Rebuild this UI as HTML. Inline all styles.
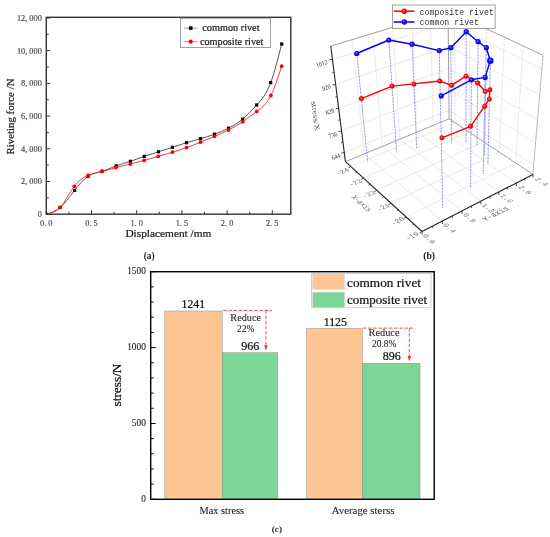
<!DOCTYPE html>
<html><head><meta charset="utf-8"><title>Figure</title>
<style>html,body{margin:0;padding:0;background:#fff;width:550px;height:537px;overflow:hidden}svg{display:block}</style>
</head><body>
<svg width="550" height="537" viewBox="0 0 550 537">
<defs>
<radialGradient id="gb" cx="0.5" cy="0.5" r="0.5" fx="0.38" fy="0.36"><stop offset="0" stop-color="#9a9aff"/><stop offset="0.45" stop-color="#1010ff"/><stop offset="1" stop-color="#0000d8"/></radialGradient>
<radialGradient id="gr" cx="0.5" cy="0.5" r="0.5" fx="0.38" fy="0.36"><stop offset="0" stop-color="#ffa0a0"/><stop offset="0.45" stop-color="#ff1010"/><stop offset="1" stop-color="#e00000"/></radialGradient>
</defs>
<clipPath id="clipA"><rect x="46.8" y="17" width="244" height="196.9"/></clipPath>
<rect width="550" height="537" fill="#fff"/>
<g id="chartA">
<line x1="46.3" y1="214.2" x2="50.3" y2="214.2" stroke="#333" stroke-width="1"/>
<line x1="46.3" y1="197.85" x2="48.8" y2="197.85" stroke="#333" stroke-width="1"/>
<line x1="46.3" y1="181.5" x2="50.3" y2="181.5" stroke="#333" stroke-width="1"/>
<line x1="46.3" y1="165.15" x2="48.8" y2="165.15" stroke="#333" stroke-width="1"/>
<line x1="46.3" y1="148.8" x2="50.3" y2="148.8" stroke="#333" stroke-width="1"/>
<line x1="46.3" y1="132.45" x2="48.8" y2="132.45" stroke="#333" stroke-width="1"/>
<line x1="46.3" y1="116.1" x2="50.3" y2="116.1" stroke="#333" stroke-width="1"/>
<line x1="46.3" y1="99.75" x2="48.8" y2="99.75" stroke="#333" stroke-width="1"/>
<line x1="46.3" y1="83.4" x2="50.3" y2="83.4" stroke="#333" stroke-width="1"/>
<line x1="46.3" y1="67.05" x2="48.8" y2="67.05" stroke="#333" stroke-width="1"/>
<line x1="46.3" y1="50.7" x2="50.3" y2="50.7" stroke="#333" stroke-width="1"/>
<line x1="46.3" y1="34.35" x2="48.8" y2="34.35" stroke="#333" stroke-width="1"/>
<line x1="46.3" y1="18" x2="50.3" y2="18" stroke="#333" stroke-width="1"/>
<line x1="46.3" y1="214.2" x2="46.3" y2="210.2" stroke="#333" stroke-width="1"/>
<line x1="68.9" y1="214.2" x2="68.9" y2="211.7" stroke="#333" stroke-width="1"/>
<line x1="91.5" y1="214.2" x2="91.5" y2="210.2" stroke="#333" stroke-width="1"/>
<line x1="114.1" y1="214.2" x2="114.1" y2="211.7" stroke="#333" stroke-width="1"/>
<line x1="136.7" y1="214.2" x2="136.7" y2="210.2" stroke="#333" stroke-width="1"/>
<line x1="159.3" y1="214.2" x2="159.3" y2="211.7" stroke="#333" stroke-width="1"/>
<line x1="181.9" y1="214.2" x2="181.9" y2="210.2" stroke="#333" stroke-width="1"/>
<line x1="204.5" y1="214.2" x2="204.5" y2="211.7" stroke="#333" stroke-width="1"/>
<line x1="227.1" y1="214.2" x2="227.1" y2="210.2" stroke="#333" stroke-width="1"/>
<line x1="249.7" y1="214.2" x2="249.7" y2="211.7" stroke="#333" stroke-width="1"/>
<line x1="272.3" y1="214.2" x2="272.3" y2="210.2" stroke="#333" stroke-width="1"/>
<rect x="46.3" y="17.3" width="244.5" height="196.9" fill="none" stroke="#333" stroke-width="1.4"/>
<text x="41.8" y="217.1" font-family="Liberation Serif, serif" font-size="8.3" fill="#4a4a4a" stroke="#4a4a4a" stroke-width="0.18" text-anchor="end">0</text>
<text x="41.8" y="184.4" font-family="Liberation Serif, serif" font-size="8.3" fill="#4a4a4a" stroke="#4a4a4a" stroke-width="0.18" text-anchor="end">2, 000</text>
<text x="41.8" y="151.7" font-family="Liberation Serif, serif" font-size="8.3" fill="#4a4a4a" stroke="#4a4a4a" stroke-width="0.18" text-anchor="end">4, 000</text>
<text x="41.8" y="119" font-family="Liberation Serif, serif" font-size="8.3" fill="#4a4a4a" stroke="#4a4a4a" stroke-width="0.18" text-anchor="end">6, 000</text>
<text x="41.8" y="86.3" font-family="Liberation Serif, serif" font-size="8.3" fill="#4a4a4a" stroke="#4a4a4a" stroke-width="0.18" text-anchor="end">8, 000</text>
<text x="41.8" y="53.6" font-family="Liberation Serif, serif" font-size="8.3" fill="#4a4a4a" stroke="#4a4a4a" stroke-width="0.18" text-anchor="end">10, 000</text>
<text x="41.8" y="20.9" font-family="Liberation Serif, serif" font-size="8.3" fill="#4a4a4a" stroke="#4a4a4a" stroke-width="0.18" text-anchor="end">12, 000</text>
<text x="46.3" y="226.2" font-family="Liberation Serif, serif" font-size="8.3" fill="#4a4a4a" stroke="#4a4a4a" stroke-width="0.18" text-anchor="middle">0. 0</text>
<text x="91.5" y="226.2" font-family="Liberation Serif, serif" font-size="8.3" fill="#4a4a4a" stroke="#4a4a4a" stroke-width="0.18" text-anchor="middle">0. 5</text>
<text x="136.7" y="226.2" font-family="Liberation Serif, serif" font-size="8.3" fill="#4a4a4a" stroke="#4a4a4a" stroke-width="0.18" text-anchor="middle">1. 0</text>
<text x="181.9" y="226.2" font-family="Liberation Serif, serif" font-size="8.3" fill="#4a4a4a" stroke="#4a4a4a" stroke-width="0.18" text-anchor="middle">1. 5</text>
<text x="227.1" y="226.2" font-family="Liberation Serif, serif" font-size="8.3" fill="#4a4a4a" stroke="#4a4a4a" stroke-width="0.18" text-anchor="middle">2. 0</text>
<text x="272.3" y="226.2" font-family="Liberation Serif, serif" font-size="8.3" fill="#4a4a4a" stroke="#4a4a4a" stroke-width="0.18" text-anchor="middle">2. 5</text>
<text x="168.4" y="236.8" font-family="Liberation Serif, serif" font-size="11" fill="#222" stroke="#222" stroke-width="0.22" text-anchor="middle" textLength="86" lengthAdjust="spacingAndGlyphs">Displacement /mm</text>
<text transform="translate(13.5,116.5) rotate(-90)" font-family="Liberation Serif, serif" font-size="11" fill="#222" stroke="#222" stroke-width="0.22" text-anchor="middle" textLength="76" lengthAdjust="spacingAndGlyphs">Riveting force /N</text>
<text x="149.2" y="259.1" font-family="Liberation Serif, serif" font-size="10.3" font-weight="bold" fill="#222" text-anchor="middle" textLength="10.9" lengthAdjust="spacingAndGlyphs">(a)</text>
<g clip-path="url(#clipA)">
<path d="M46.3,214.2 C50.9,212.78 55.5,211.37 60.1,207.5 C64.93,203.43 69.77,196.66 74.6,190.4 C79.1,184.57 83.6,179.19 88.1,176.2 C92.77,173.1 97.43,172.56 102.1,171.2 C106.8,169.83 111.5,167.64 116.2,165.9 C120.93,164.15 125.67,162.86 130.4,161.3 C135,159.78 139.6,158 144.2,156.4 C148.97,154.75 153.73,153.3 158.5,151.8 C163.13,150.34 167.77,148.84 172.4,147.3 C177.1,145.73 181.8,144.13 186.5,142.7 C191.17,141.28 195.83,140.04 200.5,138.7 C205.17,137.36 209.83,135.91 214.5,134.2 C219.17,132.49 223.83,130.53 228.5,128.2 C233.23,125.83 237.97,123.09 242.7,119.1 C247.37,115.17 252.03,110.03 256.7,105 C261.37,99.97 266.03,95.04 270.7,82.6 C274.37,72.83 278.03,58.41 281.7,44" fill="none" stroke="#444" stroke-width="0.9"/>
<rect x="44.7" y="212.6" width="3.2" height="3.2" fill="#000"/>
<rect x="58.5" y="205.9" width="3.2" height="3.2" fill="#000"/>
<rect x="73" y="188.8" width="3.2" height="3.2" fill="#000"/>
<rect x="86.5" y="174.6" width="3.2" height="3.2" fill="#000"/>
<rect x="100.5" y="169.6" width="3.2" height="3.2" fill="#000"/>
<rect x="114.6" y="164.3" width="3.2" height="3.2" fill="#000"/>
<rect x="128.8" y="159.7" width="3.2" height="3.2" fill="#000"/>
<rect x="142.6" y="154.8" width="3.2" height="3.2" fill="#000"/>
<rect x="156.9" y="150.2" width="3.2" height="3.2" fill="#000"/>
<rect x="170.8" y="145.7" width="3.2" height="3.2" fill="#000"/>
<rect x="184.9" y="141.1" width="3.2" height="3.2" fill="#000"/>
<rect x="198.9" y="137.1" width="3.2" height="3.2" fill="#000"/>
<rect x="212.9" y="132.6" width="3.2" height="3.2" fill="#000"/>
<rect x="226.9" y="126.6" width="3.2" height="3.2" fill="#000"/>
<rect x="241.1" y="117.5" width="3.2" height="3.2" fill="#000"/>
<rect x="255.1" y="103.4" width="3.2" height="3.2" fill="#000"/>
<rect x="269.1" y="81" width="3.2" height="3.2" fill="#000"/>
<rect x="280.1" y="42.4" width="3.2" height="3.2" fill="#000"/>
<path d="M46.3,214.2 C50.9,213.33 55.5,212.46 60.1,207.4 C64.83,202.2 69.57,192.56 74.3,186.3 C78.9,180.21 83.5,177.31 88.1,175.4 C92.77,173.47 97.43,172.56 102.1,171.4 C106.73,170.25 111.37,168.85 116,167.6 C120.8,166.31 125.6,165.19 130.4,164 C135,162.86 139.6,161.67 144.2,160.4 C148.87,159.12 153.53,157.76 158.2,156.4 C162.93,155.02 167.67,153.64 172.4,152.2 C177.1,150.77 181.8,149.28 186.5,147.6 C191.17,145.93 195.83,144.08 200.5,142.2 C205.17,140.32 209.83,138.4 214.5,136.4 C219.17,134.4 223.83,132.33 228.5,130 C233.23,127.64 237.97,125.02 242.7,121.8 C247.37,118.63 252.03,114.87 256.7,111.5 C261.43,108.08 266.17,105.04 270.9,95.5 C274.5,88.24 278.1,77.22 281.7,66.2" fill="none" stroke="#f22" stroke-width="0.9"/>
<circle cx="46.3" cy="214.2" r="1.9" fill="#f00"/>
<circle cx="60.1" cy="207.4" r="1.9" fill="#f00"/>
<circle cx="74.3" cy="186.3" r="1.9" fill="#f00"/>
<circle cx="88.1" cy="175.4" r="1.9" fill="#f00"/>
<circle cx="102.1" cy="171.4" r="1.9" fill="#f00"/>
<circle cx="116" cy="167.6" r="1.9" fill="#f00"/>
<circle cx="130.4" cy="164" r="1.9" fill="#f00"/>
<circle cx="144.2" cy="160.4" r="1.9" fill="#f00"/>
<circle cx="158.2" cy="156.4" r="1.9" fill="#f00"/>
<circle cx="172.4" cy="152.2" r="1.9" fill="#f00"/>
<circle cx="186.5" cy="147.6" r="1.9" fill="#f00"/>
<circle cx="200.5" cy="142.2" r="1.9" fill="#f00"/>
<circle cx="214.5" cy="136.4" r="1.9" fill="#f00"/>
<circle cx="228.5" cy="130" r="1.9" fill="#f00"/>
<circle cx="242.7" cy="121.8" r="1.9" fill="#f00"/>
<circle cx="256.7" cy="111.5" r="1.9" fill="#f00"/>
<circle cx="270.9" cy="95.5" r="1.9" fill="#f00"/>
<circle cx="281.7" cy="66.2" r="1.9" fill="#f00"/>
</g>
<rect x="180.5" y="18.2" width="90" height="29.4" fill="#fff" stroke="#888" stroke-width="0.8"/>
<line x1="183.9" y1="28.1" x2="197.7" y2="28.1" stroke="#999" stroke-width="1"/><rect x="188.9" y="26.3" width="3.6" height="3.6" fill="#000"/>
<line x1="183.9" y1="41.7" x2="197.7" y2="41.7" stroke="#f77" stroke-width="1"/><circle cx="190.7" cy="41.7" r="2.1" fill="#f00"/>
<text x="202.3" y="31" font-family="Liberation Serif, serif" font-size="10.3" fill="#222" stroke="#222" stroke-width="0.22" textLength="57.2" lengthAdjust="spacingAndGlyphs">common rivet</text>
<text x="199.9" y="45" font-family="Liberation Serif, serif" font-size="10.3" fill="#222" stroke="#222" stroke-width="0.22" textLength="63.6" lengthAdjust="spacingAndGlyphs">composite rivet</text>
</g>
<g id="chartB">
<line x1="350.63" y1="166.4" x2="454.89" y2="122.67" stroke="#dcdcdc" stroke-width="0.6"/>
<line x1="363.31" y1="177.97" x2="468.93" y2="131.98" stroke="#dcdcdc" stroke-width="0.6"/>
<line x1="376.73" y1="190.2" x2="483.69" y2="141.78" stroke="#dcdcdc" stroke-width="0.6"/>
<line x1="390.94" y1="203.15" x2="499.23" y2="152.1" stroke="#dcdcdc" stroke-width="0.6"/>
<line x1="406.01" y1="216.9" x2="515.61" y2="162.97" stroke="#dcdcdc" stroke-width="0.6"/>
<line x1="364.22" y1="153.9" x2="442.39" y2="221.02" stroke="#dcdcdc" stroke-width="0.6"/>
<line x1="382.37" y1="146.41" x2="461.94" y2="210.96" stroke="#dcdcdc" stroke-width="0.6"/>
<line x1="399.9" y1="139.17" x2="480.72" y2="201.3" stroke="#dcdcdc" stroke-width="0.6"/>
<line x1="416.85" y1="132.16" x2="498.78" y2="192.01" stroke="#dcdcdc" stroke-width="0.6"/>
<line x1="433.25" y1="125.39" x2="516.17" y2="183.06" stroke="#dcdcdc" stroke-width="0.6"/>
<line x1="364.22" y1="153.9" x2="352.25" y2="39.58" stroke="#dcdcdc" stroke-width="0.6"/>
<line x1="382.37" y1="146.41" x2="372.89" y2="33.35" stroke="#dcdcdc" stroke-width="0.6"/>
<line x1="399.9" y1="139.17" x2="392.74" y2="27.37" stroke="#dcdcdc" stroke-width="0.6"/>
<line x1="416.85" y1="132.16" x2="411.86" y2="21.6" stroke="#dcdcdc" stroke-width="0.6"/>
<line x1="433.25" y1="125.39" x2="430.29" y2="16.05" stroke="#dcdcdc" stroke-width="0.6"/>
<line x1="344.29" y1="152.64" x2="449.04" y2="110.3" stroke="#dcdcdc" stroke-width="0.6"/>
<line x1="341.55" y1="131" x2="448.84" y2="89.89" stroke="#dcdcdc" stroke-width="0.6"/>
<line x1="338.67" y1="108.29" x2="448.63" y2="68.58" stroke="#dcdcdc" stroke-width="0.6"/>
<line x1="335.64" y1="84.44" x2="448.4" y2="46.31" stroke="#dcdcdc" stroke-width="0.6"/>
<line x1="332.46" y1="59.35" x2="448.17" y2="23.01" stroke="#dcdcdc" stroke-width="0.6"/>
<line x1="454.89" y1="122.67" x2="454.48" y2="13.72" stroke="#c4c4c4" stroke-width="0.6" stroke-dasharray="1,0.7"/>
<line x1="468.93" y1="131.98" x2="470.2" y2="21.09" stroke="#c4c4c4" stroke-width="0.6" stroke-dasharray="1,0.7"/>
<line x1="483.69" y1="141.78" x2="486.82" y2="28.9" stroke="#c4c4c4" stroke-width="0.6" stroke-dasharray="1,0.7"/>
<line x1="499.23" y1="152.1" x2="504.44" y2="37.17" stroke="#c4c4c4" stroke-width="0.6" stroke-dasharray="1,0.7"/>
<line x1="515.61" y1="162.97" x2="523.13" y2="45.95" stroke="#c4c4c4" stroke-width="0.6" stroke-dasharray="1,0.7"/>
<line x1="449.04" y1="110.3" x2="533.69" y2="165.19" stroke="#dcdcdc" stroke-width="0.6"/>
<line x1="448.84" y1="89.89" x2="535.58" y2="142.96" stroke="#dcdcdc" stroke-width="0.6"/>
<line x1="448.63" y1="68.58" x2="537.56" y2="119.59" stroke="#dcdcdc" stroke-width="0.6"/>
<line x1="448.4" y1="46.31" x2="539.64" y2="94.99" stroke="#dcdcdc" stroke-width="0.6"/>
<line x1="448.17" y1="23.01" x2="541.84" y2="69.06" stroke="#dcdcdc" stroke-width="0.6"/>
<line x1="345.43" y1="161.66" x2="449.12" y2="118.84" stroke="#777" stroke-width="0.7"/>
<line x1="449.12" y1="118.84" x2="532.91" y2="174.45" stroke="#777" stroke-width="0.7"/>
<line x1="449.12" y1="118.84" x2="448.05" y2="10.7" stroke="#777" stroke-width="0.7"/>
<line x1="330.78" y1="46.05" x2="448.05" y2="10.7" stroke="#777" stroke-width="0.7"/>
<line x1="448.05" y1="10.7" x2="543.01" y2="55.28" stroke="#777" stroke-width="0.7"/>
<line x1="532.91" y1="174.45" x2="543.01" y2="55.28" stroke="#666" stroke-width="0.7" stroke-dasharray="1.5,0.8"/>
<line x1="345.43" y1="161.66" x2="422.03" y2="231.5" stroke="#222" stroke-width="1.1"/>
<line x1="422.03" y1="231.5" x2="532.91" y2="174.45" stroke="#222" stroke-width="1.1"/>
<line x1="330.78" y1="46.05" x2="345.43" y2="161.66" stroke="#222" stroke-width="1.1"/>
<line x1="344.29" y1="152.64" x2="341.29" y2="153.14" stroke="#222" stroke-width="0.8"/>
<line x1="342.93" y1="141.95" x2="341.13" y2="142.45" stroke="#222" stroke-width="0.8"/>
<line x1="341.55" y1="131" x2="338.55" y2="131.5" stroke="#222" stroke-width="0.8"/>
<line x1="340.12" y1="119.78" x2="338.32" y2="120.28" stroke="#222" stroke-width="0.8"/>
<line x1="338.67" y1="108.29" x2="335.67" y2="108.79" stroke="#222" stroke-width="0.8"/>
<line x1="337.17" y1="96.52" x2="335.37" y2="97.02" stroke="#222" stroke-width="0.8"/>
<line x1="335.64" y1="84.44" x2="332.64" y2="84.94" stroke="#222" stroke-width="0.8"/>
<line x1="334.07" y1="72.06" x2="332.27" y2="72.56" stroke="#222" stroke-width="0.8"/>
<line x1="332.46" y1="59.35" x2="329.46" y2="59.85" stroke="#222" stroke-width="0.8"/>
<line x1="350.63" y1="166.4" x2="348.23" y2="168.2" stroke="#222" stroke-width="0.8"/>
<line x1="356.88" y1="172.1" x2="355.44" y2="173.18" stroke="#222" stroke-width="0.8"/>
<line x1="363.31" y1="177.97" x2="360.91" y2="179.77" stroke="#222" stroke-width="0.8"/>
<line x1="369.93" y1="184" x2="368.49" y2="185.08" stroke="#222" stroke-width="0.8"/>
<line x1="376.73" y1="190.2" x2="374.33" y2="192" stroke="#222" stroke-width="0.8"/>
<line x1="383.73" y1="196.58" x2="382.29" y2="197.66" stroke="#222" stroke-width="0.8"/>
<line x1="390.94" y1="203.15" x2="388.54" y2="204.95" stroke="#222" stroke-width="0.8"/>
<line x1="398.36" y1="209.92" x2="396.92" y2="211" stroke="#222" stroke-width="0.8"/>
<line x1="406.01" y1="216.9" x2="403.61" y2="218.7" stroke="#222" stroke-width="0.8"/>
<line x1="413.89" y1="224.08" x2="412.45" y2="225.16" stroke="#222" stroke-width="0.8"/>
<line x1="422.03" y1="231.5" x2="419.63" y2="233.3" stroke="#222" stroke-width="0.8"/>
<line x1="422.03" y1="231.5" x2="422.23" y2="234.5" stroke="#222" stroke-width="0.8"/>
<line x1="432.31" y1="226.21" x2="432.51" y2="228.01" stroke="#222" stroke-width="0.8"/>
<line x1="442.39" y1="221.02" x2="442.59" y2="224.02" stroke="#222" stroke-width="0.8"/>
<line x1="452.26" y1="215.94" x2="452.46" y2="217.74" stroke="#222" stroke-width="0.8"/>
<line x1="461.94" y1="210.96" x2="462.14" y2="213.96" stroke="#222" stroke-width="0.8"/>
<line x1="471.42" y1="206.08" x2="471.62" y2="207.88" stroke="#222" stroke-width="0.8"/>
<line x1="480.72" y1="201.3" x2="480.92" y2="204.3" stroke="#222" stroke-width="0.8"/>
<line x1="489.84" y1="196.61" x2="490.04" y2="198.41" stroke="#222" stroke-width="0.8"/>
<line x1="498.78" y1="192.01" x2="498.98" y2="195.01" stroke="#222" stroke-width="0.8"/>
<line x1="507.56" y1="187.49" x2="507.76" y2="189.29" stroke="#222" stroke-width="0.8"/>
<line x1="516.17" y1="183.06" x2="516.37" y2="186.06" stroke="#222" stroke-width="0.8"/>
<line x1="524.61" y1="178.72" x2="524.81" y2="180.52" stroke="#222" stroke-width="0.8"/>
<line x1="532.91" y1="174.45" x2="533.11" y2="177.45" stroke="#222" stroke-width="0.8"/>
<line x1="356.8" y1="53.1" x2="367.7" y2="162.3" stroke="#8282ff" stroke-width="0.8" stroke-dasharray="2.4,0.8"/>
<line x1="388.8" y1="39.6" x2="396.6" y2="152.6" stroke="#8282ff" stroke-width="0.8" stroke-dasharray="2.4,0.8"/>
<line x1="412.1" y1="43.8" x2="416.7" y2="148.3" stroke="#8282ff" stroke-width="0.8" stroke-dasharray="2.4,0.8"/>
<line x1="439.2" y1="50.2" x2="442.8" y2="208" stroke="#8282ff" stroke-width="0.8" stroke-dasharray="2.4,0.8"/>
<line x1="450.9" y1="47.3" x2="451.5" y2="143.2" stroke="#8282ff" stroke-width="0.8" stroke-dasharray="2.4,0.8"/>
<line x1="466.2" y1="31.3" x2="466" y2="143.2" stroke="#8282ff" stroke-width="0.8" stroke-dasharray="2.4,0.8"/>
<line x1="478.1" y1="41.3" x2="477.1" y2="145.6" stroke="#8282ff" stroke-width="0.8" stroke-dasharray="2.4,0.8"/>
<line x1="486.3" y1="47.3" x2="484.6" y2="156" stroke="#8282ff" stroke-width="0.8" stroke-dasharray="2.4,0.8"/>
<line x1="490.4" y1="61" x2="487.9" y2="164.2" stroke="#8282ff" stroke-width="0.8" stroke-dasharray="2.4,0.8"/>
<line x1="485.1" y1="77" x2="483.3" y2="174" stroke="#8282ff" stroke-width="0.8" stroke-dasharray="2.4,0.8"/>
<line x1="471.3" y1="79.4" x2="470.6" y2="188.4" stroke="#8282ff" stroke-width="0.8" stroke-dasharray="2.4,0.8"/>
<polyline points="361.4,98.6 392.1,86.1 413.9,83.9 439.7,81 451.5,85.3 466,76.2 477.7,83 485.1,91.3 489.9,89.8 489.3,99 484.7,106.2 470.5,126.3 441.9,137.8" fill="none" stroke="#f00" stroke-width="1.4" stroke-linejoin="round"/>
<circle cx="361.4" cy="98.6" r="2.5" fill="url(#gr)"/>
<circle cx="392.1" cy="86.1" r="2.5" fill="url(#gr)"/>
<circle cx="413.9" cy="83.9" r="2.5" fill="url(#gr)"/>
<circle cx="439.7" cy="81" r="2.5" fill="url(#gr)"/>
<circle cx="451.5" cy="85.3" r="2.5" fill="url(#gr)"/>
<circle cx="466" cy="76.2" r="2.5" fill="url(#gr)"/>
<circle cx="477.7" cy="83" r="2.5" fill="url(#gr)"/>
<circle cx="485.1" cy="91.3" r="2.5" fill="url(#gr)"/>
<circle cx="489.9" cy="89.8" r="2.5" fill="url(#gr)"/>
<circle cx="489.3" cy="99" r="2.5" fill="url(#gr)"/>
<circle cx="484.7" cy="106.2" r="2.5" fill="url(#gr)"/>
<circle cx="470.5" cy="126.3" r="2.5" fill="url(#gr)"/>
<circle cx="441.9" cy="137.8" r="2.5" fill="url(#gr)"/>
<polyline points="356.8,53.5 388.8,40 412.1,44.2 439.2,50.6 450.9,47.7 466.2,31.7 478.1,41.7 486.3,47.7 490.3,60.7 485.1,77.4 471.3,79.8 441.2,95.9" fill="none" stroke="#00f" stroke-width="1.4" stroke-linejoin="round"/>
<circle cx="356.8" cy="53.5" r="2.6" fill="url(#gb)"/>
<circle cx="388.8" cy="40" r="2.6" fill="url(#gb)"/>
<circle cx="412.1" cy="44.2" r="2.6" fill="url(#gb)"/>
<circle cx="439.2" cy="50.6" r="2.6" fill="url(#gb)"/>
<circle cx="450.9" cy="47.7" r="2.6" fill="url(#gb)"/>
<circle cx="466.2" cy="31.7" r="2.6" fill="url(#gb)"/>
<circle cx="478.1" cy="41.7" r="2.6" fill="url(#gb)"/>
<circle cx="486.3" cy="47.7" r="2.6" fill="url(#gb)"/>
<circle cx="490.3" cy="60.7" r="3.2" fill="url(#gb)"/>
<circle cx="485.1" cy="77.4" r="2.6" fill="url(#gb)"/>
<circle cx="471.3" cy="79.8" r="2.6" fill="url(#gb)"/>
<circle cx="441.2" cy="95.9" r="2.6" fill="url(#gb)"/>
<text transform="translate(321.6,63.3) rotate(-20)" font-family="Liberation Serif, serif" font-size="6.7" fill="#333" text-anchor="middle" dominant-baseline="central" textLength="11.8" lengthAdjust="spacingAndGlyphs">1012</text>
<text transform="translate(326.3,87.3) rotate(-20)" font-family="Liberation Serif, serif" font-size="6.7" fill="#333" text-anchor="middle" dominant-baseline="central" textLength="8.9" lengthAdjust="spacingAndGlyphs">920</text>
<text transform="translate(329.8,111.5) rotate(-20)" font-family="Liberation Serif, serif" font-size="6.7" fill="#333" text-anchor="middle" dominant-baseline="central" textLength="8.9" lengthAdjust="spacingAndGlyphs">828</text>
<text transform="translate(332.8,134.8) rotate(-20)" font-family="Liberation Serif, serif" font-size="6.7" fill="#333" text-anchor="middle" dominant-baseline="central" textLength="8.9" lengthAdjust="spacingAndGlyphs">736</text>
<text transform="translate(335.8,156.3) rotate(-20)" font-family="Liberation Serif, serif" font-size="6.7" fill="#333" text-anchor="middle" dominant-baseline="central" textLength="8.9" lengthAdjust="spacingAndGlyphs">644</text>
<text transform="matrix(0.13,0.99,-0.94,0.34,315.6,116)" font-family="Liberation Serif, serif" font-size="7.6" fill="#555" text-anchor="middle" dominant-baseline="central" textLength="30" lengthAdjust="spacingAndGlyphs">stress/X</text>
<text transform="matrix(0.92,-0.39,0.74,0.67,342.5,172)" font-family="Liberation Mono, monospace" font-size="7.2" fill="#777" text-anchor="middle" dominant-baseline="central">-24</text>
<text transform="matrix(0.92,-0.4,0.74,0.67,355.6,182.9)" font-family="Liberation Mono, monospace" font-size="7.2" fill="#777" text-anchor="middle" dominant-baseline="central">-23</text>
<text transform="matrix(0.91,-0.41,0.74,0.67,369,194.6)" font-family="Liberation Mono, monospace" font-size="7.2" fill="#777" text-anchor="middle" dominant-baseline="central">-22</text>
<text transform="matrix(0.9,-0.43,0.74,0.67,383.3,207.6)" font-family="Liberation Mono, monospace" font-size="7.2" fill="#777" text-anchor="middle" dominant-baseline="central">-21</text>
<text transform="matrix(0.9,-0.44,0.74,0.67,397.8,221.2)" font-family="Liberation Mono, monospace" font-size="7.2" fill="#777" text-anchor="middle" dominant-baseline="central">-20</text>
<text transform="matrix(0.89,-0.46,0.74,0.67,412.3,236.3)" font-family="Liberation Mono, monospace" font-size="7.2" fill="#777" text-anchor="middle" dominant-baseline="central">-19</text>
<text transform="matrix(0.74,0.67,-0.91,0.42,361.2,203.6)" font-family="Liberation Mono, monospace" font-size="7.6" fill="#555" text-anchor="middle" dominant-baseline="central" textLength="22.5" lengthAdjust="spacingAndGlyphs">X-axis</text>
<text transform="matrix(0.74,0.67,-0.89,0.46,428.7,239)" font-family="Liberation Mono, monospace" font-size="7.2" fill="#777" text-anchor="middle" dominant-baseline="central">0.0</text>
<text transform="matrix(0.76,0.65,-0.89,0.46,449.1,228.3)" font-family="Liberation Mono, monospace" font-size="7.2" fill="#777" text-anchor="middle" dominant-baseline="central">0.4</text>
<text transform="matrix(0.78,0.63,-0.89,0.46,469.3,217.9)" font-family="Liberation Mono, monospace" font-size="7.2" fill="#777" text-anchor="middle" dominant-baseline="central">0.8</text>
<text transform="matrix(0.79,0.61,-0.89,0.46,487.9,208.2)" font-family="Liberation Mono, monospace" font-size="7.2" fill="#777" text-anchor="middle" dominant-baseline="central">1.2</text>
<text transform="matrix(0.81,0.59,-0.89,0.46,506.2,198.6)" font-family="Liberation Mono, monospace" font-size="7.2" fill="#777" text-anchor="middle" dominant-baseline="central">1.6</text>
<text transform="matrix(0.82,0.57,-0.89,0.46,524.8,190)" font-family="Liberation Mono, monospace" font-size="7.2" fill="#777" text-anchor="middle" dominant-baseline="central">2.0</text>
<text transform="matrix(0.83,0.55,-0.89,0.46,541.2,181.8)" font-family="Liberation Mono, monospace" font-size="7.2" fill="#777" text-anchor="middle" dominant-baseline="central">2.4</text>
<text transform="matrix(0.89,-0.46,0.8,0.6,495.6,213.8)" font-family="Liberation Mono, monospace" font-size="8" fill="#444" text-anchor="middle" dominant-baseline="central" textLength="27" lengthAdjust="spacingAndGlyphs">Y-axis</text>
<rect x="392.5" y="5" width="102.6" height="23.3" fill="#fff" stroke="#777" stroke-width="0.7"/>
<line x1="393.7" y1="11.2" x2="414.5" y2="11.2" stroke="#f00" stroke-width="1.5"/><circle cx="404.3" cy="11.2" r="2.7" fill="url(#gr)"/>
<line x1="393.7" y1="22" x2="414.5" y2="22" stroke="#00f" stroke-width="1.5"/><circle cx="404.3" cy="22" r="2.7" fill="url(#gb)"/>
<text x="419.6" y="14.5" font-family="Liberation Mono, monospace" font-size="8.25" fill="#333" textLength="74.3" lengthAdjust="spacingAndGlyphs">composite rivet</text>
<text x="419.6" y="25.3" font-family="Liberation Mono, monospace" font-size="8.25" fill="#333" textLength="59.4" lengthAdjust="spacingAndGlyphs">common rivet</text>
<text x="429.1" y="259.1" font-family="Liberation Serif, serif" font-size="10.3" font-weight="bold" fill="#222" text-anchor="middle" textLength="11.8" lengthAdjust="spacingAndGlyphs">(b)</text>
</g>
<g id="chartC">
<rect x="164.8" y="311" width="57.4" height="188.3" fill="#fdc592" stroke="#9a8a80" stroke-width="0.5"/>
<rect x="222.2" y="352.73" width="55.6" height="146.57" fill="#7dd699" stroke="#9a8a80" stroke-width="0.5"/>
<rect x="306.5" y="328.6" width="55.9" height="170.7" fill="#fdc592" stroke="#9a8a80" stroke-width="0.5"/>
<rect x="362.4" y="363.35" width="57.6" height="135.95" fill="#7dd699" stroke="#9a8a80" stroke-width="0.5"/>
<line x1="150.7" y1="499.3" x2="155.7" y2="499.3" stroke="#000" stroke-width="1"/>
<line x1="150.7" y1="484.13" x2="153.7" y2="484.13" stroke="#000" stroke-width="1"/>
<line x1="150.7" y1="468.95" x2="153.7" y2="468.95" stroke="#000" stroke-width="1"/>
<line x1="150.7" y1="453.78" x2="153.7" y2="453.78" stroke="#000" stroke-width="1"/>
<line x1="150.7" y1="438.61" x2="153.7" y2="438.61" stroke="#000" stroke-width="1"/>
<line x1="150.7" y1="423.44" x2="155.7" y2="423.44" stroke="#000" stroke-width="1"/>
<line x1="150.7" y1="408.26" x2="153.7" y2="408.26" stroke="#000" stroke-width="1"/>
<line x1="150.7" y1="393.09" x2="153.7" y2="393.09" stroke="#000" stroke-width="1"/>
<line x1="150.7" y1="377.92" x2="153.7" y2="377.92" stroke="#000" stroke-width="1"/>
<line x1="150.7" y1="362.74" x2="153.7" y2="362.74" stroke="#000" stroke-width="1"/>
<line x1="150.7" y1="347.57" x2="155.7" y2="347.57" stroke="#000" stroke-width="1"/>
<line x1="150.7" y1="332.4" x2="153.7" y2="332.4" stroke="#000" stroke-width="1"/>
<line x1="150.7" y1="317.22" x2="153.7" y2="317.22" stroke="#000" stroke-width="1"/>
<line x1="150.7" y1="302.05" x2="153.7" y2="302.05" stroke="#000" stroke-width="1"/>
<line x1="150.7" y1="286.88" x2="153.7" y2="286.88" stroke="#000" stroke-width="1"/>
<line x1="150.7" y1="271.71" x2="155.7" y2="271.71" stroke="#000" stroke-width="1"/>
<rect x="150.7" y="271.7" width="283.5" height="227.6" fill="none" stroke="#000" stroke-width="1.4"/>
<text x="145.8" y="501.9" font-family="Liberation Serif, serif" font-size="9.3" fill="#222" stroke="#222" stroke-width="0.08" text-anchor="end">0</text>
<text x="145.8" y="426.04" font-family="Liberation Serif, serif" font-size="9.3" fill="#222" stroke="#222" stroke-width="0.08" text-anchor="end">500</text>
<text x="145.8" y="350.17" font-family="Liberation Serif, serif" font-size="9.3" fill="#222" stroke="#222" stroke-width="0.08" text-anchor="end">1000</text>
<text x="145.8" y="274.31" font-family="Liberation Serif, serif" font-size="9.3" fill="#222" stroke="#222" stroke-width="0.08" text-anchor="end">1500</text>
<text transform="translate(120.9,385) rotate(-90)" font-family="Liberation Serif, serif" font-size="11.5" fill="#111" stroke="#111" stroke-width="0.22" text-anchor="middle" textLength="43" lengthAdjust="spacingAndGlyphs">stress/N</text>
<text x="221.8" y="514.2" font-family="Liberation Serif, serif" font-size="10.4" fill="#222" stroke="#222" stroke-width="0.08" text-anchor="middle" textLength="44.5" lengthAdjust="spacingAndGlyphs">Max stress</text>
<text x="363.1" y="513.7" font-family="Liberation Serif, serif" font-size="10.6" fill="#222" stroke="#222" stroke-width="0.08" text-anchor="middle" textLength="62.8" lengthAdjust="spacingAndGlyphs">Average sterss</text>
<text x="276.9" y="532.2" font-family="Liberation Serif, serif" font-size="8.6" font-weight="bold" fill="#222" text-anchor="middle" textLength="10.2" lengthAdjust="spacingAndGlyphs">(c)</text>
<text x="193.3" y="307.8" font-family="Liberation Serif, serif" font-size="11.8" fill="#111" stroke="#111" stroke-width="0.22" text-anchor="middle">1241</text>
<text x="250.2" y="349.6" font-family="Liberation Serif, serif" font-size="12" fill="#111" stroke="#111" stroke-width="0.22" text-anchor="middle">966</text>
<text x="335.3" y="326.2" font-family="Liberation Serif, serif" font-size="11.8" fill="#111" stroke="#111" stroke-width="0.22" text-anchor="middle">1125</text>
<text x="391.7" y="359.7" font-family="Liberation Serif, serif" font-size="12" fill="#111" stroke="#111" stroke-width="0.22" text-anchor="middle">896</text>
<text x="245.7" y="320.8" font-family="Liberation Serif, serif" font-size="10" fill="#222" stroke="#222" stroke-width="0.08" text-anchor="middle" textLength="30.8" lengthAdjust="spacingAndGlyphs">Reduce</text>
<text x="245.7" y="332.3" font-family="Liberation Serif, serif" font-size="9.5" fill="#222" stroke="#222" stroke-width="0.08" text-anchor="middle">22%</text>
<text x="384" y="335.7" font-family="Liberation Serif, serif" font-size="10" fill="#222" stroke="#222" stroke-width="0.08" text-anchor="middle" textLength="31" lengthAdjust="spacingAndGlyphs">Reduce</text>
<text x="384.2" y="346.5" font-family="Liberation Serif, serif" font-size="9.5" fill="#222" stroke="#222" stroke-width="0.08" text-anchor="middle">20.8%</text>
<line x1="223.2" y1="310.4" x2="271.8" y2="310.4" stroke="#ff3030" stroke-width="0.9" stroke-dasharray="3.4,1.8"/>
<line x1="265.9" y1="310.4" x2="265.9" y2="346" stroke="#ff3030" stroke-width="0.9" stroke-dasharray="3.4,1.8"/>
<path d="M264.2,345.3 L267.6,345.3 L265.9,350.6 Z" fill="#ff2020"/>
<line x1="362.9" y1="328.1" x2="413" y2="328.1" stroke="#ff3030" stroke-width="0.9" stroke-dasharray="3.4,1.8"/>
<line x1="409.3" y1="328.1" x2="409.3" y2="356.5" stroke="#ff3030" stroke-width="0.9" stroke-dasharray="3.4,1.8"/>
<path d="M407.6,356 L411,356 L409.3,361.3 Z" fill="#ff2020"/>
<rect x="311.5" y="273.5" width="119.5" height="34.3" fill="#fff" stroke="#bbb" stroke-width="0.7"/>
<rect x="312.7" y="274.3" width="31.8" height="15" fill="#fdc592" stroke="#ccc" stroke-width="0.4"/>
<rect x="312.7" y="292.2" width="31.8" height="15" fill="#7dd699" stroke="#ccc" stroke-width="0.4"/>
<text x="347" y="286.5" font-family="Liberation Serif, serif" font-size="13" fill="#111" stroke="#111" stroke-width="0.22" textLength="74" lengthAdjust="spacingAndGlyphs">common rivet</text>
<text x="347" y="304.3" font-family="Liberation Serif, serif" font-size="13" fill="#111" stroke="#111" stroke-width="0.22" textLength="80.2" lengthAdjust="spacingAndGlyphs">composite rivet</text>
</g>
</svg>
</body></html>
